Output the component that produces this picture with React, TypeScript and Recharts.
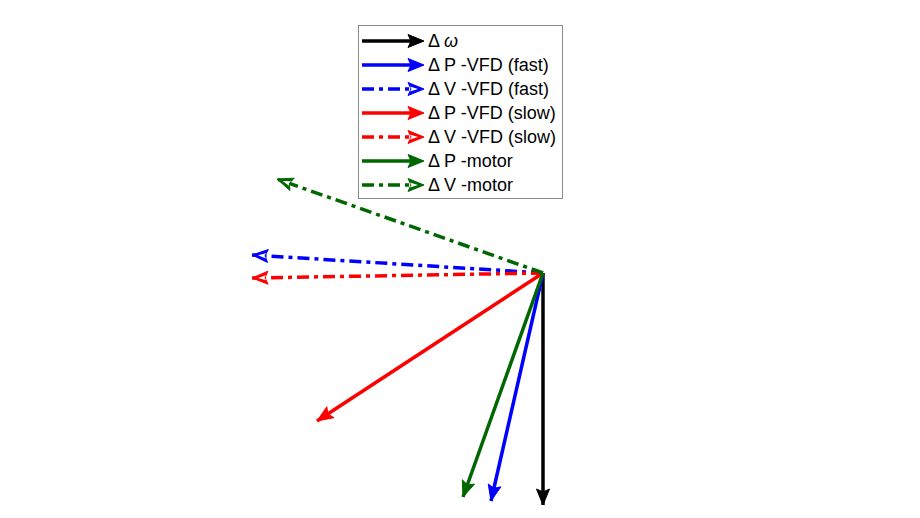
import React from 'react';
import { LineChart, Line, XAxis, YAxis, Legend } from 'recharts';

// Vector end points (data units, origin at 0,0)
const vectorNames = [
  'Δ ω',
  'Δ P -VFD (fast)',
  'Δ V -VFD (fast)',
  'Δ P -VFD (slow)',
  'Δ V -VFD (slow)',
  'Δ P -motor',
  'Δ V -motor',
];
const vectorX = [0, -0.52, -2.91, -2.26, -2.91, -0.8, -2.66];
const vectorY = [-2.32, -2.28, 0.18, -1.48, -0.05, -2.24, 0.94];
const vectorColors = ['#000000', '#0000ff', '#0000ff', '#ff0000', '#ff0000', '#006600', '#006600'];
const vectorDashed = [false, false, true, false, true, false, true];

const X_DOMAIN: [number, number] = [-5.43, 3.77];
const Y_DOMAIN: [number, number] = [-2.45, 2.73];
const W = 920;
const H = 518;
const DASH = '12 5 4 5';
const LW = 3.5;

const HEAD_LEN = 16;
const HEAD_HALF = 6.5;
const HEAD_NOTCH = 3;

function headPath(tipX: number, tipY: number, angle: number, len = HEAD_LEN, half = HEAD_HALF, notch = HEAD_NOTCH) {
  const c = Math.cos(angle);
  const s = Math.sin(angle);
  const pt = (along: number, perp: number) =>
    `${tipX - c * along - s * perp},${tipY - s * along + c * perp}`;
  return `M${pt(0, 0)} L${pt(len, half)} L${pt(len - notch, 0)} L${pt(len, -half)} Z`;
}

function Head({ x, y, angle, color, dashed }: { x: number; y: number; angle: number; color: string; dashed: boolean }) {
  return (
    <g>
      <path d={headPath(x, y, angle)} fill={color} stroke={color} strokeWidth={1} strokeLinejoin="miter" />
      {dashed ? (
        <path
          d={headPath(
            x - Math.cos(angle) * 6,
            y - Math.sin(angle) * 6,
            angle,
            8,
            2.6,
            1.5
          )}
          fill="#ffffff"
          stroke="none"
        />
      ) : null}
    </g>
  );
}

function makeArrowDot(color: string, dashed: boolean) {
  return (props: any) => {
    const { cx, cy, index, points, payload } = props;
    if (index !== 1 || cx == null || cy == null) return <g key={`d-${index}`} />;
    let ox: number;
    let oy: number;
    if (points && points[0]) {
      ox = points[0].x;
      oy = points[0].y;
    } else {
      const sx = W / (X_DOMAIN[1] - X_DOMAIN[0]);
      const sy = H / (Y_DOMAIN[1] - Y_DOMAIN[0]);
      ox = cx - payload.x * sx;
      oy = cy + payload.y * sy;
    }
    const angle = Math.atan2(cy - oy, cx - ox);
    return (
      <g key={`d-${index}`}>
        <Head x={cx} y={cy} angle={angle} color={color} dashed={dashed} />
      </g>
    );
  };
}

function LegendIcon({ color, dashed }: { color: string; dashed: boolean }) {
  return (
    <svg width={64} height={16} style={{ display: 'block' }}>
      <line
        x1={0}
        y1={8}
        x2={dashed ? 50 : 56}
        y2={8}
        stroke={color}
        strokeWidth={LW}
        strokeDasharray={dashed ? DASH : undefined}
      />
      <Head x={62} y={8} angle={0} color={color} dashed={dashed} />
    </svg>
  );
}

function LegendBox() {
  return (
    <div
      style={{
        width: 203,
        height: 169,
        border: '1px solid #8a8a8a',
        background: '#ffffff',
        paddingTop: 3,
        boxSizing: 'content-box',
        fontFamily: '"Liberation Sans", Arial, sans-serif',
        fontSize: 18,
        color: '#000',
      }}
    >
      {vectorNames.map((name, i) => (
        <div
          key={name}
          style={{ display: 'flex', alignItems: 'center', height: 24, paddingLeft: 3 }}
        >
          <LegendIcon color={vectorColors[i]} dashed={vectorDashed[i]} />
          <span style={{ marginLeft: 2, whiteSpace: 'nowrap' }}>
            {i === 0 ? (
              <>
                Δ <i>ω</i>
              </>
            ) : (
              name
            )}
          </span>
        </div>
      ))}
    </div>
  );
}

export default function App() {
  return (
    <div style={{ position: 'absolute', left: 0, top: 0, width: W, height: H, background: '#fff' }}>
      <LineChart width={W} height={H} margin={{ top: 0, right: 0, bottom: 0, left: 0 }}>
        <XAxis type="number" dataKey="x" domain={X_DOMAIN} allowDataOverflow hide />
        <YAxis type="number" dataKey="y" domain={Y_DOMAIN} allowDataOverflow hide />
        <Legend
          layout="vertical"
          align="center"
          verticalAlign="middle"
          content={() => <LegendBox />}
          wrapperStyle={{ position: 'absolute', left: 358, top: 25, width: 'auto', height: 'auto' }}
        />
        {vectorNames.map((name, i) => (
          <Line
            key={name}
            name={name}
            data={[
              { x: 0, y: 0 },
              { x: vectorX[i], y: vectorY[i] },
            ]}
            dataKey="y"
            type="linear"
            stroke={vectorColors[i]}
            strokeWidth={LW}
            strokeDasharray={vectorDashed[i] ? DASH : undefined}
            dot={makeArrowDot(vectorColors[i], vectorDashed[i])}
            activeDot={false}
            isAnimationActive={false}
          />
        ))}
      </LineChart>
    </div>
  );
}
